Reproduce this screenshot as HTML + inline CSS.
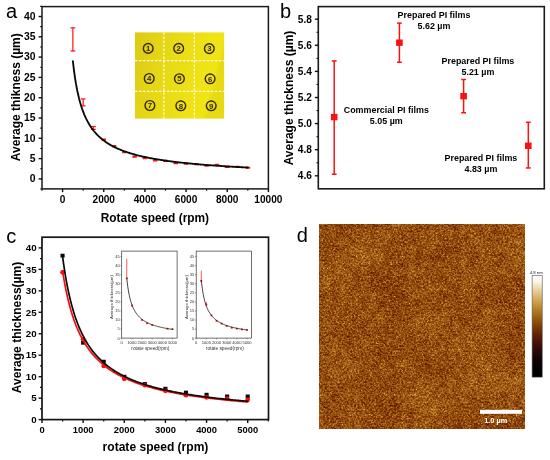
<!DOCTYPE html>
<html lang="en"><head><meta charset="utf-8"><title>Figure: spin-coated PI film thickness</title>
<style>html,body{margin:0;padding:0;background:#fff;}body{width:550px;height:460px;overflow:hidden;}svg{display:block;font-family:'Liberation Sans', sans-serif;}</style>
</head><body>
<svg width="550" height="460" viewBox="0 0 550 460">
<defs>
<linearGradient id="ygrad" x1="0" y1="0" x2="1" y2="0.25"><stop offset="0" stop-color="#dccb14"/><stop offset="0.35" stop-color="#e6d716"/><stop offset="0.8" stop-color="#efe316"/><stop offset="0.95" stop-color="#f0e414"/><stop offset="1" stop-color="#e8da12"/></linearGradient>
<linearGradient id="cbar" x1="0" y1="0" x2="0" y2="1"><stop offset="0" stop-color="#ffffff"/><stop offset="0.06" stop-color="#fbf6ea"/><stop offset="0.15" stop-color="#e6cf98"/><stop offset="0.25" stop-color="#cfa350"/><stop offset="0.35" stop-color="#b07a22"/><stop offset="0.45" stop-color="#8e5208"/><stop offset="0.55" stop-color="#6c2c04"/><stop offset="0.65" stop-color="#48140a"/><stop offset="0.75" stop-color="#260808"/><stop offset="0.85" stop-color="#0c0202"/><stop offset="1" stop-color="#000"/></linearGradient>
<filter id="afm" x="0" y="0" width="100%" height="100%" color-interpolation-filters="sRGB">
<feTurbulence type="fractalNoise" baseFrequency="0.55" numOctaves="2" seed="7" result="n1"/>
<feColorMatrix in="n1" type="matrix" values="0.95 0 0 0 -0.287  0.95 0 0 0 -0.287  0.95 0 0 0 -0.287  0 0 0 0 1" result="g1"/>
<feTurbulence type="fractalNoise" baseFrequency="0.022" numOctaves="3" seed="11" result="n2"/>
<feColorMatrix in="n2" type="matrix" values="0.24 0 0 0 0  0.24 0 0 0 0  0.24 0 0 0 0  0 0 0 0 1" result="g2"/>
<feTurbulence type="fractalNoise" baseFrequency="0.85" numOctaves="1" seed="23" result="n3"/>
<feColorMatrix in="n3" type="matrix" values="3.2 0 0 0 -2.0  3.2 0 0 0 -2.0  3.2 0 0 0 -2.0  0 0 0 0 1" result="g3"/>
<feTurbulence type="fractalNoise" baseFrequency="0.13" numOctaves="2" seed="31" result="n4"/>
<feColorMatrix in="n4" type="matrix" values="0.3 0 0 0 0  0.3 0 0 0 0  0.3 0 0 0 0  0 0 0 0 1" result="g4"/>
<feComposite in="g1" in2="g2" operator="arithmetic" k1="0" k2="1" k3="1" k4="0" result="g12"/>
<feComposite in="g12" in2="g4" operator="arithmetic" k1="0" k2="1" k3="1" k4="0" result="g124"/>
<feComposite in="g124" in2="g3" operator="arithmetic" k1="0" k2="1" k3="0.6" k4="0" result="g"/>
<feGaussianBlur in="g" stdDeviation="0.62" result="gb"/>
<feComponentTransfer in="gb"><feFuncR type="table" tableValues="0.275 0.34 0.405 0.47 0.535 0.60 0.665 0.73 0.795 0.86 0.925"/><feFuncG type="table" tableValues="0.02 0.05 0.11 0.18 0.255 0.33 0.41 0.49 0.57 0.65 0.73"/><feFuncB type="table" tableValues="0 0 0 0.01 0.035 0.07 0.11 0.15 0.19 0.23 0.27"/><feFuncA type="linear" slope="0" intercept="1"/></feComponentTransfer>
</filter>
</defs>
<rect x="0" y="0" width="550" height="460" fill="#fff"/>
<g id="panel-a">
<rect x="42.0" y="6.6" width="226.40" height="182.30" fill="#fff" stroke="#1a1a1a" stroke-width="1.5"/>
<line x1="38.60" y1="178.90" x2="42.00" y2="178.90" stroke="#111" stroke-width="1.4"/>
<text x="35.60" y="182.20" font-size="10.4" font-weight="bold" text-anchor="end" fill="#000">0</text>
<line x1="38.60" y1="158.60" x2="42.00" y2="158.60" stroke="#111" stroke-width="1.4"/>
<text x="35.60" y="161.90" font-size="10.4" font-weight="bold" text-anchor="end" fill="#000">5</text>
<line x1="38.60" y1="138.30" x2="42.00" y2="138.30" stroke="#111" stroke-width="1.4"/>
<text x="35.60" y="141.60" font-size="10.4" font-weight="bold" text-anchor="end" fill="#000">10</text>
<line x1="38.60" y1="118.00" x2="42.00" y2="118.00" stroke="#111" stroke-width="1.4"/>
<text x="35.60" y="121.30" font-size="10.4" font-weight="bold" text-anchor="end" fill="#000">15</text>
<line x1="38.60" y1="97.70" x2="42.00" y2="97.70" stroke="#111" stroke-width="1.4"/>
<text x="35.60" y="101.00" font-size="10.4" font-weight="bold" text-anchor="end" fill="#000">20</text>
<line x1="38.60" y1="77.40" x2="42.00" y2="77.40" stroke="#111" stroke-width="1.4"/>
<text x="35.60" y="80.70" font-size="10.4" font-weight="bold" text-anchor="end" fill="#000">25</text>
<line x1="38.60" y1="57.10" x2="42.00" y2="57.10" stroke="#111" stroke-width="1.4"/>
<text x="35.60" y="60.40" font-size="10.4" font-weight="bold" text-anchor="end" fill="#000">30</text>
<line x1="38.60" y1="36.80" x2="42.00" y2="36.80" stroke="#111" stroke-width="1.4"/>
<text x="35.60" y="40.10" font-size="10.4" font-weight="bold" text-anchor="end" fill="#000">35</text>
<line x1="38.60" y1="16.50" x2="42.00" y2="16.50" stroke="#111" stroke-width="1.4"/>
<text x="35.60" y="19.80" font-size="10.4" font-weight="bold" text-anchor="end" fill="#000">40</text>
<line x1="40.20" y1="189.05" x2="42.00" y2="189.05" stroke="#111" stroke-width="1.1"/>
<line x1="40.20" y1="168.75" x2="42.00" y2="168.75" stroke="#111" stroke-width="1.1"/>
<line x1="40.20" y1="148.45" x2="42.00" y2="148.45" stroke="#111" stroke-width="1.1"/>
<line x1="40.20" y1="128.15" x2="42.00" y2="128.15" stroke="#111" stroke-width="1.1"/>
<line x1="40.20" y1="107.85" x2="42.00" y2="107.85" stroke="#111" stroke-width="1.1"/>
<line x1="40.20" y1="87.55" x2="42.00" y2="87.55" stroke="#111" stroke-width="1.1"/>
<line x1="40.20" y1="67.25" x2="42.00" y2="67.25" stroke="#111" stroke-width="1.1"/>
<line x1="40.20" y1="46.95" x2="42.00" y2="46.95" stroke="#111" stroke-width="1.1"/>
<line x1="40.20" y1="26.65" x2="42.00" y2="26.65" stroke="#111" stroke-width="1.1"/>
<line x1="40.20" y1="6.35" x2="42.00" y2="6.35" stroke="#111" stroke-width="1.1"/>
<line x1="62.58" y1="188.90" x2="62.58" y2="192.10" stroke="#111" stroke-width="1.4"/>
<text x="62.58" y="202.90" font-size="10.1" font-weight="bold" text-anchor="middle" fill="#000">0</text>
<line x1="103.75" y1="188.90" x2="103.75" y2="192.10" stroke="#111" stroke-width="1.4"/>
<text x="103.75" y="202.90" font-size="10.1" font-weight="bold" text-anchor="middle" fill="#000">2000</text>
<line x1="144.91" y1="188.90" x2="144.91" y2="192.10" stroke="#111" stroke-width="1.4"/>
<text x="144.91" y="202.90" font-size="10.1" font-weight="bold" text-anchor="middle" fill="#000">4000</text>
<line x1="186.07" y1="188.90" x2="186.07" y2="192.10" stroke="#111" stroke-width="1.4"/>
<text x="186.07" y="202.90" font-size="10.1" font-weight="bold" text-anchor="middle" fill="#000">6000</text>
<line x1="227.24" y1="188.90" x2="227.24" y2="192.10" stroke="#111" stroke-width="1.4"/>
<text x="227.24" y="202.90" font-size="10.1" font-weight="bold" text-anchor="middle" fill="#000">8000</text>
<line x1="268.40" y1="188.90" x2="268.40" y2="192.10" stroke="#111" stroke-width="1.4"/>
<text x="268.40" y="202.90" font-size="10.1" font-weight="bold" text-anchor="middle" fill="#000">10000</text>
<line x1="42.00" y1="188.90" x2="42.00" y2="190.70" stroke="#111" stroke-width="1.1"/>
<line x1="83.16" y1="188.90" x2="83.16" y2="190.70" stroke="#111" stroke-width="1.1"/>
<line x1="124.33" y1="188.90" x2="124.33" y2="190.70" stroke="#111" stroke-width="1.1"/>
<line x1="165.49" y1="188.90" x2="165.49" y2="190.70" stroke="#111" stroke-width="1.1"/>
<line x1="206.65" y1="188.90" x2="206.65" y2="190.70" stroke="#111" stroke-width="1.1"/>
<line x1="247.82" y1="188.90" x2="247.82" y2="190.70" stroke="#111" stroke-width="1.1"/>
<text x="154.90" y="222.00" font-size="11.9" font-weight="bold" text-anchor="middle" fill="#000">Rotate speed (rpm)</text>
<text x="20.10" y="97.20" font-size="12.03" font-weight="bold" text-anchor="middle" fill="#000" transform="rotate(-90 20.10 97.20)">Average thikness (µm)</text>
<text x="11.60" y="17.80" font-size="20" text-anchor="middle" fill="#000">a</text>
<line x1="72.87" y1="51.01" x2="72.87" y2="27.87" stroke="#fa1212" stroke-width="1.2"/>
<line x1="70.47" y1="51.01" x2="75.27" y2="51.01" stroke="#fa1212" stroke-width="1.2"/>
<line x1="70.47" y1="27.87" x2="75.27" y2="27.87" stroke="#fa1212" stroke-width="1.2"/>
<line x1="83.16" y1="105.82" x2="83.16" y2="98.92" stroke="#fa1212" stroke-width="1.2"/>
<line x1="80.76" y1="105.82" x2="85.56" y2="105.82" stroke="#fa1212" stroke-width="1.2"/>
<line x1="80.76" y1="98.92" x2="85.56" y2="98.92" stroke="#fa1212" stroke-width="1.2"/>
<line x1="93.45" y1="129.37" x2="93.45" y2="126.53" stroke="#fa1212" stroke-width="1.2"/>
<line x1="91.05" y1="129.37" x2="95.85" y2="129.37" stroke="#fa1212" stroke-width="1.2"/>
<line x1="91.05" y1="126.53" x2="95.85" y2="126.53" stroke="#fa1212" stroke-width="1.2"/>
<rect x="101.45" y="138.62" width="4.6" height="2.2" rx="0.5" fill="#fa1212"/>
<rect x="111.74" y="145.12" width="4.6" height="2.2" rx="0.5" fill="#fa1212"/>
<rect x="122.03" y="151.00" width="4.6" height="2.2" rx="0.5" fill="#fa1212"/>
<rect x="132.32" y="155.47" width="4.6" height="2.2" rx="0.5" fill="#fa1212"/>
<rect x="142.61" y="157.09" width="4.6" height="2.2" rx="0.5" fill="#fa1212"/>
<rect x="152.90" y="159.33" width="4.6" height="2.2" rx="0.5" fill="#fa1212"/>
<rect x="163.19" y="159.73" width="4.6" height="2.2" rx="0.5" fill="#fa1212"/>
<rect x="173.48" y="161.97" width="4.6" height="2.2" rx="0.5" fill="#fa1212"/>
<rect x="183.77" y="162.58" width="4.6" height="2.2" rx="0.5" fill="#fa1212"/>
<rect x="194.06" y="162.98" width="4.6" height="2.2" rx="0.5" fill="#fa1212"/>
<rect x="204.35" y="164.61" width="4.6" height="2.2" rx="0.5" fill="#fa1212"/>
<rect x="214.65" y="163.79" width="4.6" height="2.2" rx="0.5" fill="#fa1212"/>
<rect x="224.94" y="165.82" width="4.6" height="2.2" rx="0.5" fill="#fa1212"/>
<rect x="235.23" y="165.82" width="4.6" height="2.2" rx="0.5" fill="#fa1212"/>
<rect x="245.52" y="166.64" width="4.6" height="2.2" rx="0.5" fill="#fa1212"/>
<polyline points="72.87,61.15 73.90,69.89 74.93,77.30 75.96,83.67 76.99,89.21 78.02,94.08 79.05,98.39 80.08,102.25 81.11,105.71 82.13,108.84 83.16,111.69 84.19,114.29 85.22,116.68 86.25,118.87 87.28,120.91 88.31,122.79 89.34,124.54 90.37,126.18 91.40,127.71 92.43,129.14 93.45,130.48 94.48,131.75 95.51,132.95 96.54,134.08 97.57,135.15 98.60,136.16 99.63,137.12 100.66,138.04 101.69,138.91 102.72,139.74 103.75,140.54 104.77,141.30 105.80,142.02 106.83,142.72 107.86,143.38 108.89,144.02 109.92,144.64 110.95,145.23 111.98,145.80 113.01,146.35 114.04,146.87 115.07,147.38 116.09,147.87 117.12,148.35 118.15,148.81 119.18,149.25 120.21,149.68 121.24,150.09 122.27,150.50 123.30,150.89 124.33,151.27 125.36,151.63 126.39,151.99 127.41,152.34 128.44,152.67 129.47,153.00 130.50,153.32 131.53,153.63 132.56,153.93 133.59,154.22 134.62,154.51 135.65,154.78 136.68,155.06 137.71,155.32 138.73,155.58 139.76,155.83 140.79,156.08 141.82,156.32 142.85,156.55 143.88,156.78 144.91,157.00 145.94,157.22 146.97,157.44 148.00,157.65 149.03,157.85 150.05,158.05 151.08,158.25 152.11,158.44 153.14,158.63 154.17,158.81 155.20,158.99 156.23,159.17 157.26,159.34 158.29,159.51 159.32,159.68 160.35,159.85 161.37,160.01 162.40,160.16 163.43,160.32 164.46,160.47 165.49,160.62 166.52,160.77 167.55,160.91 168.58,161.05 169.61,161.19 170.64,161.33 171.67,161.46 172.69,161.59 173.72,161.72 174.75,161.85 175.78,161.98 176.81,162.10 177.84,162.22 178.87,162.34 179.90,162.46 180.93,162.57 181.96,162.69 182.99,162.80 184.01,162.91 185.04,163.02 186.07,163.13 187.10,163.23 188.13,163.34 189.16,163.44 190.19,163.54 191.22,163.64 192.25,163.74 193.28,163.83 194.31,163.93 195.33,164.02 196.36,164.12 197.39,164.21 198.42,164.30 199.45,164.39 200.48,164.47 201.51,164.56 202.54,164.65 203.57,164.73 204.60,164.81 205.63,164.90 206.65,164.98 207.68,165.06 208.71,165.14 209.74,165.21 210.77,165.29 211.80,165.37 212.83,165.44 213.86,165.52 214.89,165.59 215.92,165.66 216.95,165.73 217.97,165.80 219.00,165.87 220.03,165.94 221.06,166.01 222.09,166.08 223.12,166.14 224.15,166.21 225.18,166.27 226.21,166.34 227.24,166.40 228.27,166.46 229.29,166.53 230.32,166.59 231.35,166.65 232.38,166.71 233.41,166.77 234.44,166.83 235.47,166.89 236.50,166.94 237.53,167.00 238.56,167.06 239.59,167.11 240.61,167.17 241.64,167.22 242.67,167.28 243.70,167.33 244.73,167.38 245.76,167.43 246.79,167.49 247.82,167.54" fill="none" stroke="#0a0a0a" stroke-width="1.85" stroke-linejoin="round" stroke-linecap="round"/>
<rect x="135.0" y="32.4" width="89.10" height="86.20" fill="url(#ygrad)"/>
<line x1="163.90" y1="32.40" x2="163.90" y2="118.60" stroke="#fffacc" stroke-width="1.3" stroke-dasharray="2.6 1.4"/>
<line x1="194.40" y1="32.40" x2="194.40" y2="118.60" stroke="#fffacc" stroke-width="1.3" stroke-dasharray="2.6 1.4"/>
<line x1="135.00" y1="60.70" x2="224.10" y2="60.70" stroke="#fffacc" stroke-width="1.3" stroke-dasharray="2.6 1.4"/>
<line x1="135.00" y1="91.40" x2="224.10" y2="91.40" stroke="#fffacc" stroke-width="1.3" stroke-dasharray="2.6 1.4"/>
<circle cx="148.20" cy="48.40" r="4.85" fill="none" stroke="#33270a" stroke-width="1.4"/>
<text x="148.20" y="51.15" font-size="7.8" font-weight="bold" text-anchor="middle" fill="#33270a">1</text>
<circle cx="178.70" cy="48.40" r="4.85" fill="none" stroke="#33270a" stroke-width="1.4"/>
<text x="178.70" y="51.15" font-size="7.8" font-weight="bold" text-anchor="middle" fill="#33270a">2</text>
<circle cx="209.30" cy="48.60" r="4.85" fill="none" stroke="#33270a" stroke-width="1.4"/>
<text x="209.30" y="51.35" font-size="7.8" font-weight="bold" text-anchor="middle" fill="#33270a">3</text>
<circle cx="149.20" cy="78.50" r="4.85" fill="none" stroke="#33270a" stroke-width="1.4"/>
<text x="149.20" y="81.25" font-size="7.8" font-weight="bold" text-anchor="middle" fill="#33270a">4</text>
<circle cx="179.40" cy="78.70" r="4.85" fill="none" stroke="#33270a" stroke-width="1.4"/>
<text x="179.40" y="81.45" font-size="7.8" font-weight="bold" text-anchor="middle" fill="#33270a">5</text>
<circle cx="210.10" cy="78.80" r="4.85" fill="none" stroke="#33270a" stroke-width="1.4"/>
<text x="210.10" y="81.55" font-size="7.8" font-weight="bold" text-anchor="middle" fill="#33270a">6</text>
<circle cx="149.90" cy="105.50" r="4.85" fill="none" stroke="#33270a" stroke-width="1.4"/>
<text x="149.90" y="108.25" font-size="7.8" font-weight="bold" text-anchor="middle" fill="#33270a">7</text>
<circle cx="180.80" cy="105.80" r="4.85" fill="none" stroke="#33270a" stroke-width="1.4"/>
<text x="180.80" y="108.55" font-size="7.8" font-weight="bold" text-anchor="middle" fill="#33270a">8</text>
<circle cx="211.20" cy="105.80" r="4.85" fill="none" stroke="#33270a" stroke-width="1.4"/>
<text x="211.20" y="108.55" font-size="7.8" font-weight="bold" text-anchor="middle" fill="#33270a">9</text>
</g>
<g id="panel-b">
<rect x="318.3" y="6.6" width="226.00" height="182.20" fill="#fff" stroke="#1a1a1a" stroke-width="1.6"/>
<line x1="314.90" y1="175.80" x2="318.30" y2="175.80" stroke="#111" stroke-width="1.4"/>
<text x="311.90" y="179.15" font-size="10.15" font-weight="bold" text-anchor="end" fill="#000">4.6</text>
<line x1="314.90" y1="149.70" x2="318.30" y2="149.70" stroke="#111" stroke-width="1.4"/>
<text x="311.90" y="153.05" font-size="10.15" font-weight="bold" text-anchor="end" fill="#000">4.8</text>
<line x1="314.90" y1="123.60" x2="318.30" y2="123.60" stroke="#111" stroke-width="1.4"/>
<text x="311.90" y="126.95" font-size="10.15" font-weight="bold" text-anchor="end" fill="#000">5.0</text>
<line x1="314.90" y1="97.50" x2="318.30" y2="97.50" stroke="#111" stroke-width="1.4"/>
<text x="311.90" y="100.85" font-size="10.15" font-weight="bold" text-anchor="end" fill="#000">5.2</text>
<line x1="314.90" y1="71.40" x2="318.30" y2="71.40" stroke="#111" stroke-width="1.4"/>
<text x="311.90" y="74.75" font-size="10.15" font-weight="bold" text-anchor="end" fill="#000">5.4</text>
<line x1="314.90" y1="45.30" x2="318.30" y2="45.30" stroke="#111" stroke-width="1.4"/>
<text x="311.90" y="48.65" font-size="10.15" font-weight="bold" text-anchor="end" fill="#000">5.6</text>
<line x1="314.90" y1="19.20" x2="318.30" y2="19.20" stroke="#111" stroke-width="1.4"/>
<text x="311.90" y="22.55" font-size="10.15" font-weight="bold" text-anchor="end" fill="#000">5.8</text>
<line x1="316.50" y1="162.75" x2="318.30" y2="162.75" stroke="#111" stroke-width="1.1"/>
<line x1="316.50" y1="136.65" x2="318.30" y2="136.65" stroke="#111" stroke-width="1.1"/>
<line x1="316.50" y1="110.55" x2="318.30" y2="110.55" stroke="#111" stroke-width="1.1"/>
<line x1="316.50" y1="84.45" x2="318.30" y2="84.45" stroke="#111" stroke-width="1.1"/>
<line x1="316.50" y1="58.35" x2="318.30" y2="58.35" stroke="#111" stroke-width="1.1"/>
<line x1="316.50" y1="32.25" x2="318.30" y2="32.25" stroke="#111" stroke-width="1.1"/>
<text x="292.80" y="98.00" font-size="12.03" font-weight="bold" text-anchor="middle" fill="#000" transform="rotate(-90 292.80 98.00)">Average thickness (µm)</text>
<text x="285.60" y="17.80" font-size="20" text-anchor="middle" fill="#000">b</text>
<line x1="334.20" y1="174.23" x2="334.20" y2="60.96" stroke="#fa1212" stroke-width="1.5"/>
<line x1="331.80" y1="174.23" x2="336.60" y2="174.23" stroke="#fa1212" stroke-width="1.5"/>
<line x1="331.80" y1="60.96" x2="336.60" y2="60.96" stroke="#fa1212" stroke-width="1.5"/>
<rect x="330.90" y="113.87" width="6.6" height="6.4" fill="#fa1212"/>
<line x1="399.40" y1="62.27" x2="399.40" y2="23.12" stroke="#fa1212" stroke-width="1.5"/>
<line x1="397.00" y1="62.27" x2="401.80" y2="62.27" stroke="#fa1212" stroke-width="1.5"/>
<line x1="397.00" y1="23.12" x2="401.80" y2="23.12" stroke="#fa1212" stroke-width="1.5"/>
<rect x="396.10" y="39.49" width="6.6" height="6.4" fill="#fa1212"/>
<line x1="463.60" y1="112.77" x2="463.60" y2="79.49" stroke="#fa1212" stroke-width="1.5"/>
<line x1="461.20" y1="112.77" x2="466.00" y2="112.77" stroke="#fa1212" stroke-width="1.5"/>
<line x1="461.20" y1="79.49" x2="466.00" y2="79.49" stroke="#fa1212" stroke-width="1.5"/>
<rect x="460.30" y="92.99" width="6.6" height="6.4" fill="#fa1212"/>
<line x1="528.30" y1="167.97" x2="528.30" y2="122.29" stroke="#fa1212" stroke-width="1.5"/>
<line x1="525.90" y1="167.97" x2="530.70" y2="167.97" stroke="#fa1212" stroke-width="1.5"/>
<line x1="525.90" y1="122.29" x2="530.70" y2="122.29" stroke="#fa1212" stroke-width="1.5"/>
<rect x="525.00" y="142.58" width="6.6" height="6.4" fill="#fa1212"/>
<text x="434.00" y="17.80" font-size="8.92" font-weight="bold" text-anchor="middle" fill="#000">Prepared PI films</text>
<text x="434.00" y="28.80" font-size="8.92" font-weight="bold" text-anchor="middle" fill="#000">5.62 µm</text>
<text x="477.90" y="64.40" font-size="8.92" font-weight="bold" text-anchor="middle" fill="#000">Prepared PI films</text>
<text x="477.90" y="75.40" font-size="8.92" font-weight="bold" text-anchor="middle" fill="#000">5.21 µm</text>
<text x="386.30" y="113.10" font-size="8.92" font-weight="bold" text-anchor="middle" fill="#000">Commercial PI films</text>
<text x="386.30" y="124.10" font-size="8.92" font-weight="bold" text-anchor="middle" fill="#000">5.05 µm</text>
<text x="480.90" y="161.10" font-size="8.92" font-weight="bold" text-anchor="middle" fill="#000">Prepared PI films</text>
<text x="480.90" y="172.10" font-size="8.92" font-weight="bold" text-anchor="middle" fill="#000">4.83 µm</text>
</g>
<g id="panel-c">
<rect x="42.0" y="237.2" width="226.50" height="182.40" fill="#fff" stroke="#151515" stroke-width="1.7"/>
<line x1="38.60" y1="419.60" x2="42.00" y2="419.60" stroke="#111" stroke-width="1.4"/>
<text x="36.60" y="422.85" font-size="9.7" font-weight="bold" text-anchor="end" fill="#000">0</text>
<line x1="38.60" y1="398.14" x2="42.00" y2="398.14" stroke="#111" stroke-width="1.4"/>
<text x="36.60" y="401.39" font-size="9.7" font-weight="bold" text-anchor="end" fill="#000">5</text>
<line x1="38.60" y1="376.68" x2="42.00" y2="376.68" stroke="#111" stroke-width="1.4"/>
<text x="36.60" y="379.93" font-size="9.7" font-weight="bold" text-anchor="end" fill="#000">10</text>
<line x1="38.60" y1="355.21" x2="42.00" y2="355.21" stroke="#111" stroke-width="1.4"/>
<text x="36.60" y="358.46" font-size="9.7" font-weight="bold" text-anchor="end" fill="#000">15</text>
<line x1="38.60" y1="333.75" x2="42.00" y2="333.75" stroke="#111" stroke-width="1.4"/>
<text x="36.60" y="337.00" font-size="9.7" font-weight="bold" text-anchor="end" fill="#000">20</text>
<line x1="38.60" y1="312.29" x2="42.00" y2="312.29" stroke="#111" stroke-width="1.4"/>
<text x="36.60" y="315.54" font-size="9.7" font-weight="bold" text-anchor="end" fill="#000">25</text>
<line x1="38.60" y1="290.83" x2="42.00" y2="290.83" stroke="#111" stroke-width="1.4"/>
<text x="36.60" y="294.08" font-size="9.7" font-weight="bold" text-anchor="end" fill="#000">30</text>
<line x1="38.60" y1="269.36" x2="42.00" y2="269.36" stroke="#111" stroke-width="1.4"/>
<text x="36.60" y="272.61" font-size="9.7" font-weight="bold" text-anchor="end" fill="#000">35</text>
<line x1="38.60" y1="247.90" x2="42.00" y2="247.90" stroke="#111" stroke-width="1.4"/>
<text x="36.60" y="251.15" font-size="9.7" font-weight="bold" text-anchor="end" fill="#000">40</text>
<line x1="40.00" y1="408.87" x2="42.00" y2="408.87" stroke="#111" stroke-width="1.2"/>
<line x1="40.00" y1="387.41" x2="42.00" y2="387.41" stroke="#111" stroke-width="1.2"/>
<line x1="40.00" y1="365.94" x2="42.00" y2="365.94" stroke="#111" stroke-width="1.2"/>
<line x1="40.00" y1="344.48" x2="42.00" y2="344.48" stroke="#111" stroke-width="1.2"/>
<line x1="40.00" y1="323.02" x2="42.00" y2="323.02" stroke="#111" stroke-width="1.2"/>
<line x1="40.00" y1="301.56" x2="42.00" y2="301.56" stroke="#111" stroke-width="1.2"/>
<line x1="40.00" y1="280.09" x2="42.00" y2="280.09" stroke="#111" stroke-width="1.2"/>
<line x1="40.00" y1="258.63" x2="42.00" y2="258.63" stroke="#111" stroke-width="1.2"/>
<line x1="42.00" y1="419.60" x2="42.00" y2="423.00" stroke="#111" stroke-width="1.4"/>
<text x="42.00" y="432.90" font-size="9.4" font-weight="bold" text-anchor="middle" fill="#000">0</text>
<line x1="83.14" y1="419.60" x2="83.14" y2="423.00" stroke="#111" stroke-width="1.4"/>
<text x="83.14" y="432.90" font-size="9.4" font-weight="bold" text-anchor="middle" fill="#000">1000</text>
<line x1="124.28" y1="419.60" x2="124.28" y2="423.00" stroke="#111" stroke-width="1.4"/>
<text x="124.28" y="432.90" font-size="9.4" font-weight="bold" text-anchor="middle" fill="#000">2000</text>
<line x1="165.42" y1="419.60" x2="165.42" y2="423.00" stroke="#111" stroke-width="1.4"/>
<text x="165.42" y="432.90" font-size="9.4" font-weight="bold" text-anchor="middle" fill="#000">3000</text>
<line x1="206.56" y1="419.60" x2="206.56" y2="423.00" stroke="#111" stroke-width="1.4"/>
<text x="206.56" y="432.90" font-size="9.4" font-weight="bold" text-anchor="middle" fill="#000">4000</text>
<line x1="247.70" y1="419.60" x2="247.70" y2="423.00" stroke="#111" stroke-width="1.4"/>
<text x="247.70" y="432.90" font-size="9.4" font-weight="bold" text-anchor="middle" fill="#000">5000</text>
<line x1="62.57" y1="419.60" x2="62.57" y2="421.60" stroke="#111" stroke-width="1.2"/>
<line x1="103.71" y1="419.60" x2="103.71" y2="421.60" stroke="#111" stroke-width="1.2"/>
<line x1="144.85" y1="419.60" x2="144.85" y2="421.60" stroke="#111" stroke-width="1.2"/>
<line x1="185.99" y1="419.60" x2="185.99" y2="421.60" stroke="#111" stroke-width="1.2"/>
<line x1="227.13" y1="419.60" x2="227.13" y2="421.60" stroke="#111" stroke-width="1.2"/>
<line x1="268.27" y1="419.60" x2="268.27" y2="421.60" stroke="#111" stroke-width="1.2"/>
<text x="155.50" y="451.30" font-size="12.05" font-weight="bold" text-anchor="middle" fill="#000">rotate speed (rpm)</text>
<text x="20.80" y="327.50" font-size="12.03" font-weight="bold" text-anchor="middle" fill="#000" transform="rotate(-90 20.80 327.50)">Average thickness(µm)</text>
<text x="11.20" y="243.10" font-size="20" text-anchor="middle" fill="#000">c</text>
<g id="inset1">
<rect x="121.7" y="251.1" width="55.40" height="87.00" fill="#fff" stroke="#333" stroke-width="0.7"/>
<line x1="120.40" y1="338.10" x2="121.70" y2="338.10" stroke="#333" stroke-width="0.45"/>
<text x="119.70" y="339.55" font-size="4.1" text-anchor="end" fill="#333">0</text>
<line x1="120.40" y1="329.04" x2="121.70" y2="329.04" stroke="#333" stroke-width="0.45"/>
<text x="119.70" y="330.49" font-size="4.1" text-anchor="end" fill="#333">5</text>
<line x1="120.40" y1="319.98" x2="121.70" y2="319.98" stroke="#333" stroke-width="0.45"/>
<text x="119.70" y="321.43" font-size="4.1" text-anchor="end" fill="#333">10</text>
<line x1="120.40" y1="310.91" x2="121.70" y2="310.91" stroke="#333" stroke-width="0.45"/>
<text x="119.70" y="312.36" font-size="4.1" text-anchor="end" fill="#333">15</text>
<line x1="120.40" y1="301.85" x2="121.70" y2="301.85" stroke="#333" stroke-width="0.45"/>
<text x="119.70" y="303.30" font-size="4.1" text-anchor="end" fill="#333">20</text>
<line x1="120.40" y1="292.79" x2="121.70" y2="292.79" stroke="#333" stroke-width="0.45"/>
<text x="119.70" y="294.24" font-size="4.1" text-anchor="end" fill="#333">25</text>
<line x1="120.40" y1="283.73" x2="121.70" y2="283.73" stroke="#333" stroke-width="0.45"/>
<text x="119.70" y="285.18" font-size="4.1" text-anchor="end" fill="#333">30</text>
<line x1="120.40" y1="274.66" x2="121.70" y2="274.66" stroke="#333" stroke-width="0.45"/>
<text x="119.70" y="276.11" font-size="4.1" text-anchor="end" fill="#333">35</text>
<line x1="120.40" y1="265.60" x2="121.70" y2="265.60" stroke="#333" stroke-width="0.45"/>
<text x="119.70" y="267.05" font-size="4.1" text-anchor="end" fill="#333">40</text>
<line x1="120.40" y1="256.54" x2="121.70" y2="256.54" stroke="#333" stroke-width="0.45"/>
<text x="119.70" y="257.99" font-size="4.1" text-anchor="end" fill="#333">45</text>
<line x1="121.70" y1="338.10" x2="121.70" y2="339.40" stroke="#333" stroke-width="0.45"/>
<text x="121.70" y="343.70" font-size="4.1" text-anchor="middle" fill="#333">0</text>
<line x1="131.87" y1="338.10" x2="131.87" y2="339.40" stroke="#333" stroke-width="0.45"/>
<text x="131.87" y="343.70" font-size="4.1" text-anchor="middle" fill="#333">1000</text>
<line x1="142.03" y1="338.10" x2="142.03" y2="339.40" stroke="#333" stroke-width="0.45"/>
<text x="142.03" y="343.70" font-size="4.1" text-anchor="middle" fill="#333">2000</text>
<line x1="152.20" y1="338.10" x2="152.20" y2="339.40" stroke="#333" stroke-width="0.45"/>
<text x="152.20" y="343.70" font-size="4.1" text-anchor="middle" fill="#333">3000</text>
<line x1="162.36" y1="338.10" x2="162.36" y2="339.40" stroke="#333" stroke-width="0.45"/>
<text x="162.36" y="343.70" font-size="4.1" text-anchor="middle" fill="#333">4000</text>
<line x1="172.53" y1="338.10" x2="172.53" y2="339.40" stroke="#333" stroke-width="0.45"/>
<text x="172.53" y="343.70" font-size="4.1" text-anchor="middle" fill="#333">5000</text>
<text x="150.40" y="350.30" font-size="4.8" text-anchor="middle" fill="#333">rotate speed(rpm)</text>
<text x="113.40" y="297.10" font-size="4.3" text-anchor="middle" fill="#333" transform="rotate(-90 113.40 297.10)">Average thickness(µm)</text>
<line x1="126.78" y1="278.29" x2="126.78" y2="258.71" stroke="#f03030" stroke-width="0.8"/>
<rect x="125.88" y="277.39" width="1.8" height="1.8" fill="#e82020"/>
<rect x="130.97" y="304.58" width="1.8" height="1.8" fill="#e82020"/>
<rect x="141.13" y="319.08" width="1.8" height="1.8" fill="#e82020"/>
<rect x="146.21" y="322.34" width="1.8" height="1.8" fill="#e82020"/>
<rect x="151.30" y="324.15" width="1.8" height="1.8" fill="#e82020"/>
<rect x="166.54" y="327.78" width="1.8" height="1.8" fill="#e82020"/>
<rect x="171.63" y="328.14" width="1.8" height="1.8" fill="#e82020"/>
<polyline points="126.78,278.26 127.29,282.85 127.80,286.73 128.31,290.06 128.82,292.95 129.32,295.48 129.83,297.73 130.34,299.72 130.85,301.52 131.36,303.13 131.87,304.60 132.37,305.94 132.88,307.17 133.39,308.30 133.90,309.34 134.41,310.31 134.91,311.21 135.42,312.04 135.93,312.83 136.44,313.56 136.95,314.24 137.46,314.89 137.96,315.50 138.47,316.07 138.98,316.62 139.49,317.13 140.00,317.62 140.51,318.08 141.01,318.53 141.52,318.95 142.03,319.35 142.54,319.73 143.05,320.10 143.56,320.45 144.06,320.79 144.57,321.11 145.08,321.42 145.59,321.72 146.10,322.00 146.60,322.28 147.11,322.54 147.62,322.80 148.13,323.05 148.64,323.28 149.15,323.51 149.65,323.74 150.16,323.95 150.67,324.16 151.18,324.36 151.69,324.56 152.20,324.74 152.70,324.93 153.21,325.11 153.72,325.28 154.23,325.45 154.74,325.61 155.24,325.77 155.75,325.92 156.26,326.07 156.77,326.22 157.28,326.36 157.79,326.50 158.29,326.64 158.80,326.77 159.31,326.90 159.82,327.02 160.33,327.14 160.84,327.26 161.34,327.38 161.85,327.49 162.36,327.60 162.87,327.71 163.38,327.82 163.89,327.92 164.39,328.02 164.90,328.12 165.41,328.22 165.92,328.31 166.43,328.41 166.93,328.50 167.44,328.59 167.95,328.68 168.46,328.76 168.97,328.85 169.48,328.93 169.98,329.01 170.49,329.09 171.00,329.17 171.51,329.24 172.02,329.32 172.53,329.39" fill="none" stroke="#111" stroke-width="0.8" stroke-linejoin="round" stroke-linecap="round"/>
</g>
<g id="inset2">
<rect x="196.2" y="251.1" width="55.40" height="87.00" fill="#fff" stroke="#333" stroke-width="0.7"/>
<line x1="194.90" y1="338.10" x2="196.20" y2="338.10" stroke="#333" stroke-width="0.45"/>
<text x="194.20" y="339.55" font-size="4.1" text-anchor="end" fill="#333">0</text>
<line x1="194.90" y1="329.04" x2="196.20" y2="329.04" stroke="#333" stroke-width="0.45"/>
<text x="194.20" y="330.49" font-size="4.1" text-anchor="end" fill="#333">5</text>
<line x1="194.90" y1="319.98" x2="196.20" y2="319.98" stroke="#333" stroke-width="0.45"/>
<text x="194.20" y="321.43" font-size="4.1" text-anchor="end" fill="#333">10</text>
<line x1="194.90" y1="310.91" x2="196.20" y2="310.91" stroke="#333" stroke-width="0.45"/>
<text x="194.20" y="312.36" font-size="4.1" text-anchor="end" fill="#333">15</text>
<line x1="194.90" y1="301.85" x2="196.20" y2="301.85" stroke="#333" stroke-width="0.45"/>
<text x="194.20" y="303.30" font-size="4.1" text-anchor="end" fill="#333">20</text>
<line x1="194.90" y1="292.79" x2="196.20" y2="292.79" stroke="#333" stroke-width="0.45"/>
<text x="194.20" y="294.24" font-size="4.1" text-anchor="end" fill="#333">25</text>
<line x1="194.90" y1="283.73" x2="196.20" y2="283.73" stroke="#333" stroke-width="0.45"/>
<text x="194.20" y="285.18" font-size="4.1" text-anchor="end" fill="#333">30</text>
<line x1="194.90" y1="274.66" x2="196.20" y2="274.66" stroke="#333" stroke-width="0.45"/>
<text x="194.20" y="276.11" font-size="4.1" text-anchor="end" fill="#333">35</text>
<line x1="194.90" y1="265.60" x2="196.20" y2="265.60" stroke="#333" stroke-width="0.45"/>
<text x="194.20" y="267.05" font-size="4.1" text-anchor="end" fill="#333">40</text>
<line x1="194.90" y1="256.54" x2="196.20" y2="256.54" stroke="#333" stroke-width="0.45"/>
<text x="194.20" y="257.99" font-size="4.1" text-anchor="end" fill="#333">45</text>
<line x1="196.20" y1="338.10" x2="196.20" y2="339.40" stroke="#333" stroke-width="0.45"/>
<text x="196.20" y="343.70" font-size="4.1" text-anchor="middle" fill="#333">0</text>
<line x1="206.37" y1="338.10" x2="206.37" y2="339.40" stroke="#333" stroke-width="0.45"/>
<text x="206.37" y="343.70" font-size="4.1" text-anchor="middle" fill="#333">1000</text>
<line x1="216.53" y1="338.10" x2="216.53" y2="339.40" stroke="#333" stroke-width="0.45"/>
<text x="216.53" y="343.70" font-size="4.1" text-anchor="middle" fill="#333">2000</text>
<line x1="226.70" y1="338.10" x2="226.70" y2="339.40" stroke="#333" stroke-width="0.45"/>
<text x="226.70" y="343.70" font-size="4.1" text-anchor="middle" fill="#333">3000</text>
<line x1="236.86" y1="338.10" x2="236.86" y2="339.40" stroke="#333" stroke-width="0.45"/>
<text x="236.86" y="343.70" font-size="4.1" text-anchor="middle" fill="#333">4000</text>
<line x1="247.03" y1="338.10" x2="247.03" y2="339.40" stroke="#333" stroke-width="0.45"/>
<text x="247.03" y="343.70" font-size="4.1" text-anchor="middle" fill="#333">5000</text>
<text x="224.90" y="350.30" font-size="4.8" text-anchor="middle" fill="#333">rotate speed(rpm)</text>
<text x="187.90" y="297.10" font-size="4.3" text-anchor="middle" fill="#333" transform="rotate(-90 187.90 297.10)">Average thickness(µm)</text>
<line x1="201.28" y1="281.01" x2="201.28" y2="270.68" stroke="#f03030" stroke-width="0.8"/>
<line x1="206.37" y1="305.48" x2="206.37" y2="302.21" stroke="#f03030" stroke-width="0.8"/>
<rect x="200.38" y="280.11" width="1.8" height="1.8" fill="#e82020"/>
<rect x="205.47" y="303.67" width="1.8" height="1.8" fill="#e82020"/>
<rect x="210.55" y="314.54" width="1.8" height="1.8" fill="#e82020"/>
<rect x="215.63" y="319.98" width="1.8" height="1.8" fill="#e82020"/>
<rect x="220.71" y="322.70" width="1.8" height="1.8" fill="#e82020"/>
<rect x="225.80" y="325.06" width="1.8" height="1.8" fill="#e82020"/>
<rect x="230.88" y="326.87" width="1.8" height="1.8" fill="#e82020"/>
<rect x="235.96" y="327.78" width="1.8" height="1.8" fill="#e82020"/>
<rect x="241.04" y="328.50" width="1.8" height="1.8" fill="#e82020"/>
<rect x="246.13" y="329.04" width="1.8" height="1.8" fill="#e82020"/>
<polyline points="201.28,280.26 201.79,284.78 202.30,288.59 202.81,291.86 203.32,294.69 203.82,297.17 204.33,299.36 204.84,301.32 205.35,303.07 205.86,304.65 206.37,306.08 206.87,307.38 207.38,308.58 207.89,309.68 208.40,310.69 208.91,311.63 209.41,312.50 209.92,313.31 210.43,314.07 210.94,314.78 211.45,315.44 211.96,316.07 212.46,316.65 212.97,317.21 213.48,317.73 213.99,318.23 214.50,318.70 215.01,319.15 215.51,319.58 216.02,319.98 216.53,320.37 217.04,320.74 217.55,321.09 218.06,321.43 218.56,321.76 219.07,322.07 219.58,322.36 220.09,322.65 220.60,322.92 221.10,323.19 221.61,323.44 222.12,323.69 222.63,323.93 223.14,324.15 223.65,324.38 224.15,324.59 224.66,324.79 225.17,324.99 225.68,325.19 226.19,325.37 226.70,325.55 227.20,325.73 227.71,325.90 228.22,326.07 228.73,326.23 229.24,326.38 229.74,326.53 230.25,326.68 230.76,326.83 231.27,326.96 231.78,327.10 232.29,327.23 232.79,327.36 233.30,327.49 233.81,327.61 234.32,327.73 234.83,327.85 235.34,327.96 235.84,328.07 236.35,328.18 236.86,328.28 237.37,328.39 237.88,328.49 238.39,328.59 238.89,328.68 239.40,328.78 239.91,328.87 240.42,328.96 240.93,329.05 241.43,329.14 241.94,329.22 242.45,329.31 242.96,329.39 243.47,329.47 243.98,329.55 244.48,329.62 244.99,329.70 245.50,329.77 246.01,329.84 246.52,329.92 247.03,329.99" fill="none" stroke="#111" stroke-width="0.8" stroke-linejoin="round" stroke-linecap="round"/>
</g>
<rect x="60.52" y="253.73" width="4.1" height="3.8" fill="#0a0a0a"/>
<rect x="81.09" y="340.86" width="4.1" height="3.8" fill="#0a0a0a"/>
<rect x="101.66" y="359.75" width="4.1" height="3.8" fill="#0a0a0a"/>
<rect x="122.23" y="374.78" width="4.1" height="3.8" fill="#0a0a0a"/>
<rect x="142.80" y="382.07" width="4.1" height="3.8" fill="#0a0a0a"/>
<rect x="163.37" y="386.79" width="4.1" height="3.8" fill="#0a0a0a"/>
<rect x="183.94" y="390.66" width="4.1" height="3.8" fill="#0a0a0a"/>
<rect x="204.51" y="392.80" width="4.1" height="3.8" fill="#0a0a0a"/>
<rect x="225.08" y="394.52" width="4.1" height="3.8" fill="#0a0a0a"/>
<rect x="245.65" y="394.52" width="4.1" height="3.8" fill="#0a0a0a"/>
<circle cx="62.57" cy="272.37" r="2.35" fill="#f80c0c"/>
<circle cx="83.14" cy="339.33" r="2.35" fill="#f80c0c"/>
<circle cx="103.71" cy="365.94" r="2.35" fill="#f80c0c"/>
<circle cx="124.28" cy="378.82" r="2.35" fill="#f80c0c"/>
<circle cx="144.85" cy="385.26" r="2.35" fill="#f80c0c"/>
<circle cx="165.42" cy="390.84" r="2.35" fill="#f80c0c"/>
<circle cx="185.99" cy="395.13" r="2.35" fill="#f80c0c"/>
<circle cx="206.56" cy="397.28" r="2.35" fill="#f80c0c"/>
<circle cx="227.13" cy="398.57" r="2.35" fill="#f80c0c"/>
<circle cx="247.70" cy="399.85" r="2.35" fill="#f80c0c"/>
<polyline points="62.57,270.94 63.60,277.34 64.63,283.19 65.66,288.56 66.68,293.51 67.71,298.08 68.74,302.32 69.77,306.27 70.80,309.95 71.83,313.39 72.86,316.62 73.88,319.65 74.91,322.50 75.94,325.18 76.97,327.72 78.00,330.12 79.03,332.39 80.05,334.55 81.08,336.60 82.11,338.55 83.14,340.41 84.17,342.18 85.20,343.87 86.23,345.49 87.25,347.04 88.28,348.52 89.31,349.94 90.34,351.30 91.37,352.61 92.40,353.87 93.43,355.08 94.45,356.25 95.48,357.37 96.51,358.46 97.54,359.50 98.57,360.51 99.60,361.49 100.62,362.43 101.65,363.34 102.68,364.22 103.71,365.08 104.74,365.91 105.77,366.71 106.80,367.49 107.82,368.24 108.85,368.97 109.88,369.69 110.91,370.38 111.94,371.05 112.97,371.70 114.00,372.34 115.02,372.96 116.05,373.56 117.08,374.14 118.11,374.72 119.14,375.27 120.17,375.82 121.19,376.34 122.22,376.86 123.25,377.36 124.28,377.86 125.31,378.34 126.34,378.81 127.37,379.26 128.39,379.71 129.42,380.15 130.45,380.58 131.48,381.00 132.51,381.41 133.54,381.81 134.56,382.20 135.59,382.58 136.62,382.96 137.65,383.33 138.68,383.69 139.71,384.04 140.74,384.39 141.76,384.73 142.79,385.06 143.82,385.39 144.85,385.71 145.88,386.02 146.91,386.33 147.94,386.64 148.96,386.93 149.99,387.22 151.02,387.51 152.05,387.79 153.08,388.07 154.11,388.34 155.13,388.61 156.16,388.87 157.19,389.13 158.22,389.38 159.25,389.63 160.28,389.87 161.31,390.11 162.33,390.35 163.36,390.58 164.39,390.81 165.42,391.04 166.45,391.26 167.48,391.48 168.51,391.70 169.53,391.91 170.56,392.12 171.59,392.32 172.62,392.52 173.65,392.72 174.68,392.92 175.71,393.11 176.73,393.30 177.76,393.49 178.79,393.68 179.82,393.86 180.85,394.04 181.88,394.22 182.90,394.39 183.93,394.56 184.96,394.73 185.99,394.90 187.02,395.07 188.05,395.23 189.08,395.39 190.10,395.55 191.13,395.71 192.16,395.86 193.19,396.01 194.22,396.16 195.25,396.31 196.28,396.46 197.30,396.60 198.33,396.75 199.36,396.89 200.39,397.03 201.42,397.17 202.45,397.30 203.47,397.44 204.50,397.57 205.53,397.70 206.56,397.83 207.59,397.96 208.62,398.08 209.65,398.21 210.67,398.33 211.70,398.45 212.73,398.58 213.76,398.69 214.79,398.81 215.82,398.93 216.84,399.04 217.87,399.16 218.90,399.27 219.93,399.38 220.96,399.49 221.99,399.60 223.02,399.71 224.04,399.82 225.07,399.92 226.10,400.03 227.13,400.13 228.16,400.23 229.19,400.33 230.22,400.43 231.24,400.53 232.27,400.63 233.30,400.73 234.33,400.82 235.36,400.92 236.39,401.01 237.42,401.10 238.44,401.20 239.47,401.29 240.50,401.38 241.53,401.47 242.56,401.56 243.59,401.64 244.61,401.73 245.64,401.82 246.67,401.90 247.70,401.99" fill="none" stroke="#f80c0c" stroke-width="1.7" stroke-linejoin="round" stroke-linecap="round"/>
<polyline points="62.57,256.33 63.60,263.88 64.63,270.75 65.66,277.02 66.68,282.78 67.71,288.07 68.74,292.97 69.77,297.50 70.80,301.71 71.83,305.63 72.86,309.29 73.88,312.72 74.91,315.94 75.94,318.96 76.97,321.81 78.00,324.49 79.03,327.03 80.05,329.43 81.08,331.71 82.11,333.87 83.14,335.93 84.17,337.88 85.20,339.75 86.23,341.52 87.25,343.22 88.28,344.85 89.31,346.40 90.34,347.89 91.37,349.31 92.40,350.68 93.43,352.00 94.45,353.26 95.48,354.48 96.51,355.65 97.54,356.78 98.57,357.87 99.60,358.92 100.62,359.93 101.65,360.91 102.68,361.86 103.71,362.77 104.74,363.66 105.77,364.51 106.80,365.35 107.82,366.15 108.85,366.93 109.88,367.69 110.91,368.42 111.94,369.14 112.97,369.83 114.00,370.51 115.02,371.16 116.05,371.80 117.08,372.42 118.11,373.02 119.14,373.61 120.17,374.18 121.19,374.74 122.22,375.28 123.25,375.82 124.28,376.33 125.31,376.84 126.34,377.33 127.37,377.81 128.39,378.28 129.42,378.74 130.45,379.19 131.48,379.63 132.51,380.06 133.54,380.47 134.56,380.88 135.59,381.29 136.62,381.68 137.65,382.06 138.68,382.44 139.71,382.81 140.74,383.17 141.76,383.52 142.79,383.87 143.82,384.21 144.85,384.54 145.88,384.87 146.91,385.19 147.94,385.50 148.96,385.81 149.99,386.11 151.02,386.41 152.05,386.70 153.08,386.99 154.11,387.27 155.13,387.55 156.16,387.82 157.19,388.08 158.22,388.35 159.25,388.60 160.28,388.86 161.31,389.10 162.33,389.35 163.36,389.59 164.39,389.83 165.42,390.06 166.45,390.29 167.48,390.51 168.51,390.73 169.53,390.95 170.56,391.17 171.59,391.38 172.62,391.59 173.65,391.79 174.68,391.99 175.71,392.19 176.73,392.39 177.76,392.58 178.79,392.77 179.82,392.96 180.85,393.14 181.88,393.33 182.90,393.50 183.93,393.68 184.96,393.86 185.99,394.03 187.02,394.20 188.05,394.36 189.08,394.53 190.10,394.69 191.13,394.85 192.16,395.01 193.19,395.17 194.22,395.32 195.25,395.47 196.28,395.62 197.30,395.77 198.33,395.92 199.36,396.06 200.39,396.20 201.42,396.35 202.45,396.48 203.47,396.62 204.50,396.76 205.53,396.89 206.56,397.02 207.59,397.15 208.62,397.28 209.65,397.41 210.67,397.54 211.70,397.66 212.73,397.79 213.76,397.91 214.79,398.03 215.82,398.15 216.84,398.26 217.87,398.38 218.90,398.49 219.93,398.61 220.96,398.72 221.99,398.83 223.02,398.94 224.04,399.05 225.07,399.16 226.10,399.26 227.13,399.37 228.16,399.47 229.19,399.58 230.22,399.68 231.24,399.78 232.27,399.88 233.30,399.98 234.33,400.07 235.36,400.17 236.39,400.27 237.42,400.36 238.44,400.45 239.47,400.55 240.50,400.64 241.53,400.73 242.56,400.82 243.59,400.91 244.61,401.00 245.64,401.08 246.67,401.17 247.70,401.25" fill="none" stroke="#0a0a0a" stroke-width="1.7" stroke-linejoin="round" stroke-linecap="round"/>
</g>
<g id="panel-d">
<rect x="319.1" y="224.2" width="205.30" height="204.20" fill="#a5620f"/>
<rect x="319.1" y="224.2" width="205.30" height="204.20" fill="#a5620f" filter="url(#afm)"/>
<text x="302.30" y="242.30" font-size="20" text-anchor="middle" fill="#000">d</text>
<rect x="480" y="409.8" width="42" height="4" fill="#fff"/>
<text x="495.80" y="423.10" font-size="7.4" font-weight="bold" text-anchor="middle" fill="#fff">1.0 µm</text>
<rect x="532.1" y="275.6" width="10.1" height="101.5" fill="url(#cbar)" stroke="#555" stroke-width="0.6"/>
<text x="536.20" y="274.20" font-size="4.3" text-anchor="middle" fill="#222">4.8 nm</text>
</g>
</svg>
</body></html>
